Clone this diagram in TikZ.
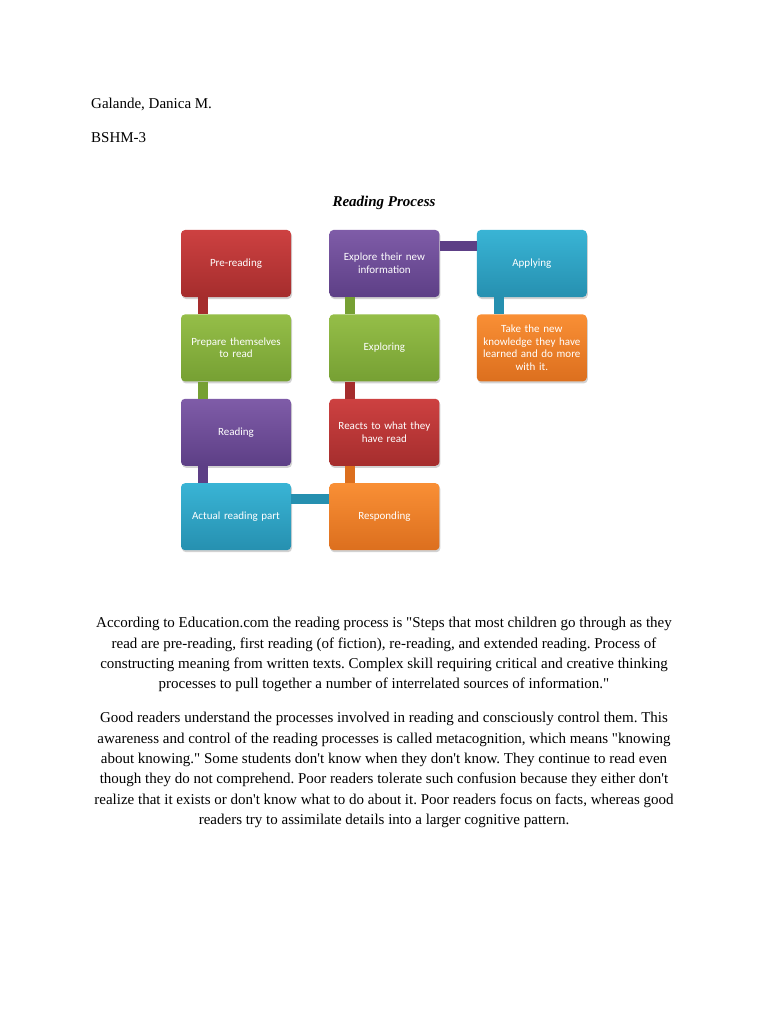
\documentclass[tikz,border=0pt]{standalone}
\usepackage{fontspec}
\setmainfont{Liberation Serif}
\newfontfamily\docfont{Liberation Serif}
\newfontfamily\boxfont{Carlito}
\usetikzlibrary{positioning,shadows}
\frenchspacing

\definecolor{rpRedT}{HTML}{CD4141}
\definecolor{rpRedB}{HTML}{A52D2D}
\definecolor{rpGreenT}{HTML}{95BE48}
\definecolor{rpGreenB}{HTML}{76A033}
\definecolor{rpPurpleT}{HTML}{7F5CA8}
\definecolor{rpPurpleB}{HTML}{5D3F86}
\definecolor{rpBlueT}{HTML}{39B4D5}
\definecolor{rpBlueB}{HTML}{2690B0}
\definecolor{rpOrangeT}{HTML}{F98F35}
\definecolor{rpOrangeB}{HTML}{DC6F1E}

\begin{document}
\begin{tikzpicture}[
            x=1pt, y=-1pt,
            node distance=17pt and 38pt,
            box/.style={rectangle, rounded corners=4pt, minimum width=110pt,
                        minimum height=67pt, text width=106pt, inner sep=0pt,
                        align=center, text=white,
                        font=\boxfont\fontsize{11}{12.6}\selectfont,
                        drop shadow={opacity=0.35, shadow xshift=1pt, shadow yshift=-2pt}},
            redbox/.style={box, top color=rpRedT, bottom color=rpRedB},
            greenbox/.style={box, top color=rpGreenT, bottom color=rpGreenB},
            purplebox/.style={box, top color=rpPurpleT, bottom color=rpPurpleB},
            bluebox/.style={box, top color=rpBlueT, bottom color=rpBlueB},
            orangebox/.style={box, top color=rpOrangeT, bottom color=rpOrangeB},
            bar/.style={line width=10pt},
            head/.style={inner sep=0pt, font=\docfont\fontsize{15}{18}\selectfont},
            para/.style={align=center, inner sep=0pt, font=\docfont\fontsize{15}{20.4}\selectfont}
        ]
            \useasboundingbox[fill=white] (0,0) rectangle (768,1024);

            % Header
            \node[head, anchor=west] (name) at (91,104.5) {Galande, Danica M.};
            \node[head, anchor=west] (course) at (91,138) {BSHM-3};
            \node[head, font=\docfont\fontsize{15}{18}\selectfont\bfseries\itshape] (title) at (384,203) {Reading Process};

            % First column
            \node[redbox] (pre) at (236,263.5) {Pre-reading};
            \node[greenbox, below=of pre] (prep) {Prepare themselves\\to read};
            \node[purplebox, below=of prep] (read) {Reading};
            \node[bluebox, below=of read] (actual) {Actual reading part};

            % Second column
            \node[purplebox, right=of pre] (explore) {Explore their new\\information};
            \node[greenbox, below=of explore] (exploring) {Exploring};
            \node[redbox, below=of exploring] (reacts) {Reacts to what they\\have read};
            \node[orangebox, below=of reacts] (resp) {Responding};

            % Third column
            \node[bluebox, right=37pt of explore] (apply) {Applying};
            \node[orangebox, below=of apply] (take) {Take the new\\knowledge they have\\learned and do more\\with it.};

            % Connectors
            \draw[bar, rpRedB] ([xshift=22pt]pre.south west) -- ([xshift=22pt]prep.north west);
            \draw[bar, rpGreenB] ([xshift=22pt]prep.south west) -- ([xshift=22pt]read.north west);
            \draw[bar, rpPurpleB] ([xshift=22pt]read.south west) -- ([xshift=22pt]actual.north west);
            \draw[bar, rpBlueB] ([yshift=-16pt]actual.north east) -- ([yshift=-16pt]resp.north west);
            \draw[bar, rpOrangeB] ([xshift=21pt]resp.north west) -- ([xshift=21pt]reacts.south west);
            \draw[bar, rpRedB] ([xshift=21pt]reacts.north west) -- ([xshift=21pt]exploring.south west);
            \draw[bar, rpGreenB] ([xshift=21pt]exploring.north west) -- ([xshift=21pt]explore.south west);
            \draw[bar, rpPurpleB] ([yshift=-16.5pt]explore.north east) -- ([yshift=-16.5pt]apply.north west);
            \draw[bar, rpBlueB] ([xshift=22pt]apply.south west) -- ([xshift=22pt]take.north west);

            % Text
            \node[para, anchor=north] (para1) at (384,617) {According to Education.com the reading process is "Steps that most children go through as they\\
read are pre-reading, first reading (of fiction), re-reading, and extended reading. Process of\\
constructing meaning from written texts. Complex skill requiring critical and creative thinking\\
processes to pull together a number of interrelated sources of information."};
            \node[para, anchor=north] (para2) at (384,712) {Good readers understand the processes involved in reading and consciously control them. This\\
awareness and control of the reading processes is called metacognition, which means "knowing\\
about knowing." Some students don't know when they don't know. They continue to read even\\
though they do not comprehend. Poor readers tolerate such confusion because they either don't\\
realize that it exists or don't know what to do about it. Poor readers focus on facts, whereas good\\
readers try to assimilate details into a larger cognitive pattern.};
        \end{tikzpicture}
\end{document}
